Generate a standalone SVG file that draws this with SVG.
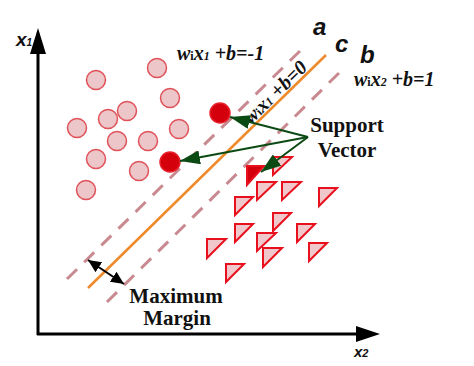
<svg xmlns="http://www.w3.org/2000/svg" width="474" height="366" viewBox="0 0 474 366">
<defs>
<style>
.pt{fill:#ecc6c8;stroke:#e0525a;stroke-width:1.5}
.sv{fill:#d4000c;stroke:#e8202a;stroke-width:1.5}
.tri{fill:#f0c8cc;stroke:#e8101c;stroke-width:2;stroke-linejoin:miter}
.trisv{fill:#d4000c;stroke:#e8101c;stroke-width:2}
.dash{stroke:#c88a90;stroke-width:3;stroke-dasharray:14 10;fill:none}
.hyp{stroke:#ef8a2a;stroke-width:2.5;fill:none}
.eq{font-family:"Liberation Serif",serif;font-weight:bold;font-style:italic;font-size:20px;fill:#111}
.lbl{font-family:"Liberation Serif",serif;font-weight:bold;font-size:21px;fill:#111}
.ltr{font-family:"Liberation Sans",sans-serif;font-weight:bold;font-style:italic;font-size:24px;fill:#111}
.ax{font-family:"Liberation Sans",sans-serif;font-weight:bold;font-style:italic;fill:#111}
.sub{font-size:12px}
.g{stroke:#0c4a14;stroke-width:2;fill:none}
</style>
<marker id="ga" markerUnits="userSpaceOnUse" markerWidth="22" markerHeight="14" refX="20" refY="7" orient="auto">
<path d="M0,0 L20,7 L0,14 Z" fill="#0c4a14"/>
</marker>
<marker id="ba" markerUnits="userSpaceOnUse" markerWidth="14" markerHeight="12" refX="13" refY="6" orient="auto-start-reverse">
<path d="M0,0 L13,6 L0,12 Z" fill="#000"/>
</marker>
</defs>
<rect width="474" height="366" fill="#fff"/>
<g id="axes">
<line x1="38" y1="50" x2="38" y2="335" stroke="#000" stroke-width="3"/>
<polygon points="38,28 30,54 46,54" fill="#000"/>
<line x1="37" y1="334" x2="358" y2="334" stroke="#000" stroke-width="3"/>
<polygon points="380,334 356,326 356,342" fill="#000"/>
<text class="ax" x="16" y="46" font-size="19">x<tspan font-size="10">1</tspan></text>
<text class="ax" x="354" y="357" font-size="15">x<tspan font-size="11">2</tspan></text>
</g>
<g id="hyperplanes">
<line class="dash" x1="67" y1="279" x2="304" y2="47"/>
<line class="hyp" x1="88" y1="288" x2="326" y2="55"/>
<line class="dash" x1="107" y1="302" x2="344" y2="68"/>
</g>
<g id="class-circles">
<circle class="pt" cx="157" cy="68" r="9.5"/>
<circle class="pt" cx="96" cy="80" r="9.5"/>
<circle class="pt" cx="170" cy="98" r="9.5"/>
<circle class="pt" cx="127" cy="111" r="9.5"/>
<circle class="pt" cx="108" cy="119" r="9.5"/>
<circle class="pt" cx="77" cy="128" r="9.5"/>
<circle class="pt" cx="179" cy="129" r="9.5"/>
<circle class="pt" cx="117" cy="141" r="9.5"/>
<circle class="pt" cx="148" cy="141" r="9.5"/>
<circle class="pt" cx="96" cy="159" r="9.5"/>
<circle class="pt" cx="139" cy="171" r="9.5"/>
<circle class="pt" cx="86" cy="190" r="9.5"/>
</g>
<g id="support-circles">
<circle class="sv" cx="220" cy="113" r="10"/>
<circle class="sv" cx="170" cy="162" r="10"/>
</g>
<g id="class-triangles">
<path class="tri" d="M273,157 h19 L273,175 Z"/>
<path class="tri" d="M257,182 h19 L257,200 Z"/>
<path class="tri" d="M282,182 h19 L282,200 Z"/>
<path class="tri" d="M319,188 h18 L319,206 Z"/>
<path class="tri" d="M235,197 h18 L235,215 Z"/>
<path class="tri" d="M273,213 h18 L273,231 Z"/>
<path class="tri" d="M235,224 h18 L235,242 Z"/>
<path class="tri" d="M297,224 h18 L297,242 Z"/>
<path class="tri" d="M257,233 h19 L257,251 Z"/>
<path class="tri" d="M207,239 h19 L207,258 Z"/>
<path class="tri" d="M309,243 h18 L309,261 Z"/>
<path class="tri" d="M263,248 h19 L263,267 Z"/>
<path class="tri" d="M226,264 h18 L226,282 Z"/>
</g>
<g id="support-triangle">
<path class="trisv" d="M247,166 h17 L247,185 Z"/>
</g>
<g id="labels">
<text class="ltr" x="313" y="35">a</text>
<text class="ltr" x="335" y="52">c</text>
<text class="ltr" x="360" y="63">b</text>
<text class="eq" x="177" y="60">w<tspan class="sub" font-style="normal">i</tspan>x<tspan class="sub">1</tspan> +b=-1</text>
<text class="eq" x="354" y="86">w<tspan class="sub" font-style="normal">i</tspan>x<tspan class="sub">2</tspan> +b=1</text>
<text class="eq" transform="translate(251,125) rotate(-44.4)">w<tspan class="sub" font-style="normal">i</tspan>x<tspan class="sub">1</tspan> +b=0</text>
<text class="lbl" x="347" y="132" text-anchor="middle">Support</text>
<text class="lbl" x="347" y="157" text-anchor="middle">Vector</text>
<text class="lbl" x="176" y="303" text-anchor="middle">Maximum</text>
<text class="lbl" x="177" y="325" text-anchor="middle">Margin</text>
</g>
<g id="connectors">
<line class="g" x1="308" y1="137" x2="230" y2="117" marker-end="url(#ga)"/>
<line class="g" x1="308" y1="137" x2="180" y2="161" marker-end="url(#ga)"/>
<line class="g" x1="308" y1="137" x2="261" y2="172" marker-end="url(#ga)"/>
<line x1="88" y1="260" x2="124" y2="284" stroke="#000" stroke-width="2" marker-start="url(#ba)" marker-end="url(#ba)"/>
</g>
</svg>
